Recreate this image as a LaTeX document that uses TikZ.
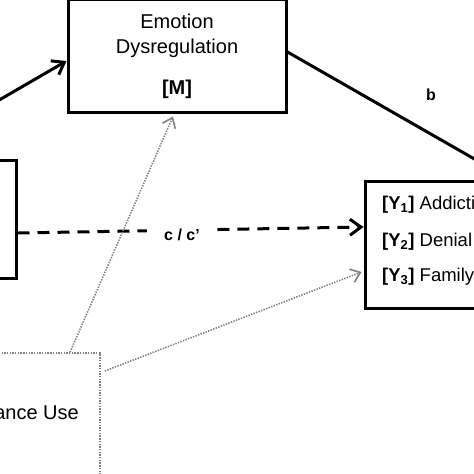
\documentclass[tikz,border=0pt]{standalone}
\usepackage{fontspec}
\setmainfont{Liberation Sans}
\usetikzlibrary{arrows.meta}
\definecolor{dotgray}{RGB}{128,128,128}
\begin{document}
\begin{tikzpicture}[x=1bp,y=-1bp,
  box/.style={draw, line width=3bp, rectangle, inner sep=0pt},
  dotbox/.style={draw=dotgray, line width=1.6bp, dash pattern=on 1.4bp off 1.3bp, rectangle, inner sep=0pt},
  txt/.style={font=\fontsize{20bp}{25bp}\selectfont, inner sep=0pt},
  ytxt/.style={font=\fontsize{18.5bp}{22bp}\selectfont, inner sep=0pt},
  lbl/.style={font=\fontsize{16bp}{19bp}\selectfont\bfseries, inner sep=1bp},
  solidarrow/.style={line width=3bp, -{Straight Barb[length=11bp,width=16bp]}},
  dasharrow/.style={solidarrow, dash pattern=on 12bp off 8bp},
  dotarrow/.style={draw=dotgray, line width=1.6bp, dash pattern=on 1.4bp off 1.3bp, -{Straight Barb[length=9bp,width=14bp]}}]
\path[use as bounding box] (0,0) rectangle (474,474);
\clip (0,0) rectangle (474,474);
% boxes
\node[box, txt, align=center, minimum width=218bp, minimum height=113bp] (M) at (177,56.5) {Emotion\\Dysregulation\\[16bp]\textbf{[M]}};
\node[box, minimum width=200bp, minimum height=117bp] (X) at (-84,219.5) {};
\node[box, minimum width=250bp, minimum height=126bp] (Y) at (490,245) {};
\node[dotbox, minimum width=400bp, minimum height=294bp] (W) at (-100,500) {};
% texts
\node[txt, anchor=east] (wt) at (79,412) {Substance Use};
\node[ytxt, anchor=west] (y1) at (382,205) {\textbf{[Y\textsubscript{1}]} Addiction};
\node[ytxt, anchor=west] (y2) at (382,241.5) {\textbf{[Y\textsubscript{2}]} Denial};
\node[ytxt, anchor=west] (y3) at (382,277) {\textbf{[Y\textsubscript{3}]} Family};
% connectors
\coordinate (a0) at (-106,161);
\draw[solidarrow] (a0) -- ([yshift=-4.5bp]M.west);
\draw[solidarrow] ([yshift=4.5bp]M.east) -- ([xshift=22bp]Y.north);
\node[lbl] (lb) at (431,95) {b};
\draw[dasharrow] ([yshift=-13.5bp]X.east) -- ([yshift=18bp]Y.west);
\draw[dotarrow] ([xshift=170bp]W.north) -- ([xshift=-4bp,yshift=-2bp]M.south);
\draw[dotarrow] ([xshift=4bp,yshift=129bp]W.east) -- ([xshift=-2bp,yshift=-27bp]Y.west);
\node[lbl, fill=white, inner xsep=17bp, inner ysep=2bp] (cc) at (182,235) {c / c'};
\end{tikzpicture}
\end{document}
